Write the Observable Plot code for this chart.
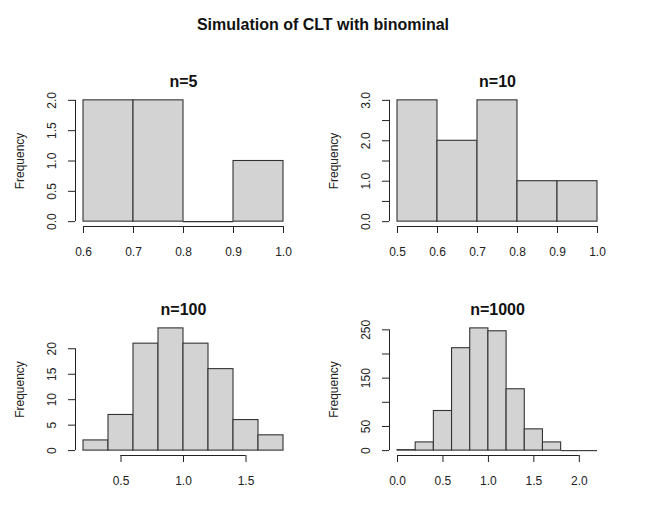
<!DOCTYPE html>
<html><head><meta charset="utf-8">
<script src="https://cdn.jsdelivr.net/npm/d3@7"></script>
<script src="https://cdn.jsdelivr.net/npm/@observablehq/plot@0.6"></script>
<style>
body{margin:0;background:#fff;}
#wrap{position:relative;width:660px;height:511px;background:#fff;font-family:"Liberation Sans",Arial,sans-serif;overflow:hidden;}
#title{position:absolute;left:0;width:646px;top:16px;text-align:center;font-weight:bold;font-size:16px;color:#111;}
.panel{position:absolute;}
</style></head><body>
<div id="wrap"><div id="title">Simulation of CLT with binominal</div></div>
<script>
// ---- data ----
const n5Breaks = [0.6, 0.7, 0.8, 0.9, 1.0];
const n5Counts = [2, 2, 0, 1];
const n5XTicks = [0.6, 0.7, 0.8, 0.9, 1.0];
const n5XLabels = ["0.6", "0.7", "0.8", "0.9", "1.0"];
const n5YTicks = [0, 0.5, 1, 1.5, 2];
const n5YLabels = ["0.0", "0.5", "1.0", "1.5", "2.0"];

const n10Breaks = [0.5, 0.6, 0.7, 0.8, 0.9, 1.0];
const n10Counts = [3, 2, 3, 1, 1];
const n10XTicks = [0.5, 0.6, 0.7, 0.8, 0.9, 1.0];
const n10XLabels = ["0.5", "0.6", "0.7", "0.8", "0.9", "1.0"];
const n10YTicks = [0, 0.5, 1, 1.5, 2, 2.5, 3];
const n10YLabels = ["0.0", "", "1.0", "", "2.0", "", "3.0"];

const n100Breaks = [0.2, 0.4, 0.6, 0.8, 1.0, 1.2, 1.4, 1.6, 1.8];
const n100Counts = [2, 7, 21, 24, 21, 16, 6, 3];
const n100XTicks = [0.5, 1.0, 1.5];
const n100XLabels = ["0.5", "1.0", "1.5"];
const n100YTicks = [0, 5, 10, 15, 20];
const n100YLabels = ["0", "5", "10", "15", "20"];

const n1000Breaks = [0.0, 0.2, 0.4, 0.6, 0.8, 1.0, 1.2, 1.4, 1.6, 1.8, 2.0, 2.2];
const n1000Counts = [1, 17, 82, 212, 253, 247, 127, 44, 17, 0, 0];
const n1000XTicks = [0.0, 0.5, 1.0, 1.5, 2.0];
const n1000XLabels = ["0.0", "0.5", "1.0", "1.5", "2.0"];
const n1000YTicks = [0, 50, 100, 150, 200, 250];
const n1000YLabels = ["0", "50", "", "150", "", "250"];

const titles = ["n=5", "n=10", "n=100", "n=1000"];
const yLabel = "Frequency";

const FONT = '"Liberation Sans", Arial, sans-serif';

function panel(title, breaks, counts, xTicks, xLabels, yTicks, yLabels, left, top, frameH) {
  const bins = counts.map((c, i) => ({x1: breaks[i], x2: breaks[i + 1], y: c}));
  const xmin = breaks[0], xmax = breaks[breaks.length - 1];
  const ymax = d3.max(counts);
  const xpad = (xmax - xmin) * 0.04, ypad = ymax * 0.04;
  const xl = xTicks.map((t, i) => ({t, l: xLabels[i]}));
  const yl = yTicks.map((t, i) => ({t, l: yLabels[i]}));
  const mt = 30, mb = 45;
  const plot = Plot.plot({
    width: 320, height: mt + frameH + mb,
    marginLeft: 75, marginRight: 29, marginTop: mt, marginBottom: mb,
    x: {domain: [xmin - xpad, xmax + xpad]},
    y: {domain: [-ypad, ymax + ypad]},
    style: {fontFamily: FONT, fontSize: "12px", color: "#222", background: "transparent", overflow: "visible"},
    marks: [
      Plot.rectY(bins, {x1: "x1", x2: "x2", y1: 0, y2: "y", fill: "#d3d3d3", stroke: "#333", strokeWidth: 1.1}),
      Plot.ruleY(bins.filter(d => d.y === 0), {y: "y", x1: "x1", x2: "x2", stroke: "#333", strokeWidth: 1.1}),
      Plot.axisX({ticks: xTicks, tickSize: 7, tickFormat: () => "", label: null, stroke: "#222"}),
      Plot.ruleY([-ypad], {x1: xTicks[0], x2: xTicks[xTicks.length - 1], stroke: "#222"}),
      Plot.axisY({ticks: yTicks, tickSize: 7, tickFormat: () => "", label: null, stroke: "#222"}),
      Plot.ruleX([xmin - xpad], {y1: yTicks[0], y2: yTicks[yTicks.length - 1], stroke: "#222"}),
      Plot.text(xl, {x: "t", text: "l", frameAnchor: "bottom", dy: 26, lineAnchor: "middle", fill: "#222"}),
      Plot.text(yl, {y: "t", text: "l", frameAnchor: "left", dx: -23, rotate: -90, textAnchor: "middle", lineAnchor: "middle", fill: "#222"}),
      Plot.text([yLabel], {text: d => d, frameAnchor: "left", dx: -55, rotate: -90, textAnchor: "middle", lineAnchor: "middle", fill: "#222"}),
      Plot.text([title], {text: d => d, frameAnchor: "top", dy: -14, lineAnchor: "middle", fontWeight: "bold", fontSize: 16, fill: "#111"})
    ]
  });
  plot.classList.add("panel");
  plot.style.left = left + "px";
  plot.style.top = top + "px";
  document.getElementById("wrap").appendChild(plot);
}

panel(titles[0], n5Breaks, n5Counts, n5XTicks, n5XLabels, n5YTicks, n5YLabels, 0, 65, 131);
panel(titles[1], n10Breaks, n10Counts, n10XTicks, n10XLabels, n10YTicks, n10YLabels, 314, 65, 131);
panel(titles[2], n100Breaks, n100Counts, n100XTicks, n100XLabels, n100YTicks, n100YLabels, 0, 293, 132);
panel(titles[3], n1000Breaks, n1000Counts, n1000XTicks, n1000XLabels, n1000YTicks, n1000YLabels, 314, 293, 132);
</script>
</body></html>
